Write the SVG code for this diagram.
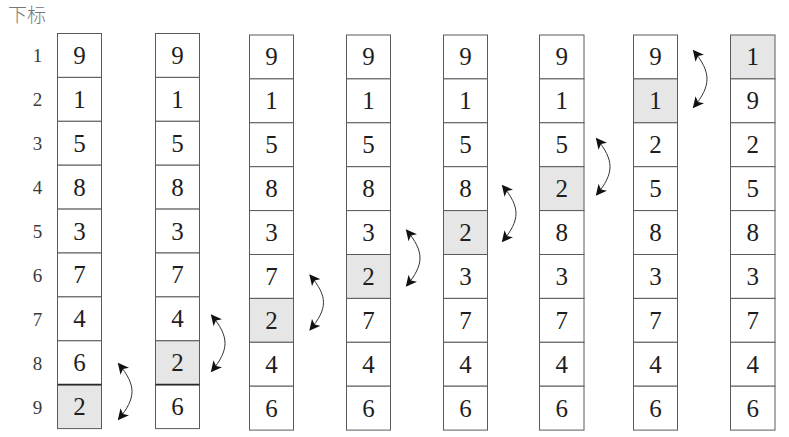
<svg xmlns="http://www.w3.org/2000/svg" width="789" height="437" viewBox="0 0 789 437">
<defs>
<style>
.cell{fill:#ffffff;stroke:#5a5a5a;stroke-width:1}
.hl{fill:#e6e6e6;stroke:#5a5a5a;stroke-width:1}
.num{font-family:"Liberation Serif","Times New Roman",serif;font-size:25px;fill:#1e1e1e;text-anchor:middle}
.idx{font-family:"Liberation Serif","Times New Roman",serif;font-size:19px;fill:#3a3a3a;text-anchor:middle}
.title{font-family:"Noto Sans CJK SC","Noto Sans",sans-serif;font-size:19px;font-weight:300;fill:#777777}
.sep{stroke:#2a2a2a;stroke-width:1.8}
.arc{fill:none;stroke:#333333;stroke-width:1;marker-start:url(#ah);marker-end:url(#ah)}
</style>
<marker id="ah" viewBox="0 0 10 10" refX="9" refY="5" markerWidth="11" markerHeight="11" markerUnits="userSpaceOnUse" orient="auto-start-reverse">
<path d="M0,0 L10,5 L0,10 L2.5,5 z" fill="#111111"/>
</marker>
</defs>
<rect width="789" height="437" fill="#ffffff"/>
<text class="title" x="8" y="22">下标</text>
<g id="index">
<text class="idx" x="37.5" y="62">1</text>
<text class="idx" x="37.5" y="106">2</text>
<text class="idx" x="37.5" y="150">3</text>
<text class="idx" x="37.5" y="194">4</text>
<text class="idx" x="37.5" y="238">5</text>
<text class="idx" x="37.5" y="282">6</text>
<text class="idx" x="37.5" y="326">7</text>
<text class="idx" x="37.5" y="370">8</text>
<text class="idx" x="37.5" y="414">9</text>
</g>
<g id="col1">
<rect class="cell" x="57.5" y="33.5" width="44" height="43.9"/>
<rect class="cell" x="57.5" y="77.4" width="44" height="43.9"/>
<rect class="cell" x="57.5" y="121.3" width="44" height="43.9"/>
<rect class="cell" x="57.5" y="165.2" width="44" height="43.9"/>
<rect class="cell" x="57.5" y="209.1" width="44" height="43.9"/>
<rect class="cell" x="57.5" y="253" width="44" height="43.9"/>
<rect class="cell" x="57.5" y="296.9" width="44" height="43.9"/>
<rect class="cell" x="57.5" y="340.8" width="44" height="43.9"/>
<rect class="hl" x="57.5" y="384.7" width="44" height="43.9"/>
<line class="sep" x1="57.5" y1="384.7" x2="101.5" y2="384.7"/>
<text class="num" x="79.5" y="63.9">9</text>
<text class="num" x="79.5" y="107.8">1</text>
<text class="num" x="79.5" y="151.7">5</text>
<text class="num" x="79.5" y="195.6">8</text>
<text class="num" x="79.5" y="239.5">3</text>
<text class="num" x="79.5" y="283.4">7</text>
<text class="num" x="79.5" y="327.3">4</text>
<text class="num" x="79.5" y="371.2">6</text>
<text class="num" x="79.5" y="415.1">2</text>
</g>
<g id="col2">
<rect class="cell" x="155.5" y="33.5" width="44" height="43.9"/>
<rect class="cell" x="155.5" y="77.4" width="44" height="43.9"/>
<rect class="cell" x="155.5" y="121.3" width="44" height="43.9"/>
<rect class="cell" x="155.5" y="165.2" width="44" height="43.9"/>
<rect class="cell" x="155.5" y="209.1" width="44" height="43.9"/>
<rect class="cell" x="155.5" y="253" width="44" height="43.9"/>
<rect class="cell" x="155.5" y="296.9" width="44" height="43.9"/>
<rect class="hl" x="155.5" y="340.8" width="44" height="43.9"/>
<rect class="cell" x="155.5" y="384.7" width="44" height="43.9"/>
<line class="sep" x1="155.5" y1="384.7" x2="199.5" y2="384.7"/>
<text class="num" x="177.5" y="63.9">9</text>
<text class="num" x="177.5" y="107.8">1</text>
<text class="num" x="177.5" y="151.7">5</text>
<text class="num" x="177.5" y="195.6">8</text>
<text class="num" x="177.5" y="239.5">3</text>
<text class="num" x="177.5" y="283.4">7</text>
<text class="num" x="177.5" y="327.3">4</text>
<text class="num" x="177.5" y="371.2">2</text>
<text class="num" x="177.5" y="415.1">6</text>
</g>
<g id="col3">
<rect class="cell" x="249.5" y="35" width="44" height="43.9"/>
<rect class="cell" x="249.5" y="78.9" width="44" height="43.9"/>
<rect class="cell" x="249.5" y="122.8" width="44" height="43.9"/>
<rect class="cell" x="249.5" y="166.7" width="44" height="43.9"/>
<rect class="cell" x="249.5" y="210.6" width="44" height="43.9"/>
<rect class="cell" x="249.5" y="254.5" width="44" height="43.9"/>
<rect class="hl" x="249.5" y="298.4" width="44" height="43.9"/>
<rect class="cell" x="249.5" y="342.3" width="44" height="43.9"/>
<rect class="cell" x="249.5" y="386.2" width="44" height="43.9"/>
<text class="num" x="271.5" y="65.4">9</text>
<text class="num" x="271.5" y="109.3">1</text>
<text class="num" x="271.5" y="153.2">5</text>
<text class="num" x="271.5" y="197.1">8</text>
<text class="num" x="271.5" y="241">3</text>
<text class="num" x="271.5" y="284.9">7</text>
<text class="num" x="271.5" y="328.8">2</text>
<text class="num" x="271.5" y="372.7">4</text>
<text class="num" x="271.5" y="416.6">6</text>
</g>
<g id="col4">
<rect class="cell" x="346.5" y="35" width="44" height="43.9"/>
<rect class="cell" x="346.5" y="78.9" width="44" height="43.9"/>
<rect class="cell" x="346.5" y="122.8" width="44" height="43.9"/>
<rect class="cell" x="346.5" y="166.7" width="44" height="43.9"/>
<rect class="cell" x="346.5" y="210.6" width="44" height="43.9"/>
<rect class="hl" x="346.5" y="254.5" width="44" height="43.9"/>
<rect class="cell" x="346.5" y="298.4" width="44" height="43.9"/>
<rect class="cell" x="346.5" y="342.3" width="44" height="43.9"/>
<rect class="cell" x="346.5" y="386.2" width="44" height="43.9"/>
<text class="num" x="368.5" y="65.4">9</text>
<text class="num" x="368.5" y="109.3">1</text>
<text class="num" x="368.5" y="153.2">5</text>
<text class="num" x="368.5" y="197.1">8</text>
<text class="num" x="368.5" y="241">3</text>
<text class="num" x="368.5" y="284.9">2</text>
<text class="num" x="368.5" y="328.8">7</text>
<text class="num" x="368.5" y="372.7">4</text>
<text class="num" x="368.5" y="416.6">6</text>
</g>
<g id="col5">
<rect class="cell" x="443.5" y="35" width="44" height="43.9"/>
<rect class="cell" x="443.5" y="78.9" width="44" height="43.9"/>
<rect class="cell" x="443.5" y="122.8" width="44" height="43.9"/>
<rect class="cell" x="443.5" y="166.7" width="44" height="43.9"/>
<rect class="hl" x="443.5" y="210.6" width="44" height="43.9"/>
<rect class="cell" x="443.5" y="254.5" width="44" height="43.9"/>
<rect class="cell" x="443.5" y="298.4" width="44" height="43.9"/>
<rect class="cell" x="443.5" y="342.3" width="44" height="43.9"/>
<rect class="cell" x="443.5" y="386.2" width="44" height="43.9"/>
<text class="num" x="465.5" y="65.4">9</text>
<text class="num" x="465.5" y="109.3">1</text>
<text class="num" x="465.5" y="153.2">5</text>
<text class="num" x="465.5" y="197.1">8</text>
<text class="num" x="465.5" y="241">2</text>
<text class="num" x="465.5" y="284.9">3</text>
<text class="num" x="465.5" y="328.8">7</text>
<text class="num" x="465.5" y="372.7">4</text>
<text class="num" x="465.5" y="416.6">6</text>
</g>
<g id="col6">
<rect class="cell" x="539.5" y="35" width="44.5" height="43.9"/>
<rect class="cell" x="539.5" y="78.9" width="44.5" height="43.9"/>
<rect class="cell" x="539.5" y="122.8" width="44.5" height="43.9"/>
<rect class="hl" x="539.5" y="166.7" width="44.5" height="43.9"/>
<rect class="cell" x="539.5" y="210.6" width="44.5" height="43.9"/>
<rect class="cell" x="539.5" y="254.5" width="44.5" height="43.9"/>
<rect class="cell" x="539.5" y="298.4" width="44.5" height="43.9"/>
<rect class="cell" x="539.5" y="342.3" width="44.5" height="43.9"/>
<rect class="cell" x="539.5" y="386.2" width="44.5" height="43.9"/>
<text class="num" x="561.75" y="65.4">9</text>
<text class="num" x="561.75" y="109.3">1</text>
<text class="num" x="561.75" y="153.2">5</text>
<text class="num" x="561.75" y="197.1">2</text>
<text class="num" x="561.75" y="241">8</text>
<text class="num" x="561.75" y="284.9">3</text>
<text class="num" x="561.75" y="328.8">7</text>
<text class="num" x="561.75" y="372.7">4</text>
<text class="num" x="561.75" y="416.6">6</text>
</g>
<g id="col7">
<rect class="cell" x="633.5" y="35" width="44" height="43.9"/>
<rect class="hl" x="633.5" y="78.9" width="44" height="43.9"/>
<rect class="cell" x="633.5" y="122.8" width="44" height="43.9"/>
<rect class="cell" x="633.5" y="166.7" width="44" height="43.9"/>
<rect class="cell" x="633.5" y="210.6" width="44" height="43.9"/>
<rect class="cell" x="633.5" y="254.5" width="44" height="43.9"/>
<rect class="cell" x="633.5" y="298.4" width="44" height="43.9"/>
<rect class="cell" x="633.5" y="342.3" width="44" height="43.9"/>
<rect class="cell" x="633.5" y="386.2" width="44" height="43.9"/>
<text class="num" x="655.5" y="65.4">9</text>
<text class="num" x="655.5" y="109.3">1</text>
<text class="num" x="655.5" y="153.2">2</text>
<text class="num" x="655.5" y="197.1">5</text>
<text class="num" x="655.5" y="241">8</text>
<text class="num" x="655.5" y="284.9">3</text>
<text class="num" x="655.5" y="328.8">7</text>
<text class="num" x="655.5" y="372.7">4</text>
<text class="num" x="655.5" y="416.6">6</text>
</g>
<g id="col8">
<rect class="hl" x="730.5" y="35" width="44.5" height="43.9"/>
<rect class="cell" x="730.5" y="78.9" width="44.5" height="43.9"/>
<rect class="cell" x="730.5" y="122.8" width="44.5" height="43.9"/>
<rect class="cell" x="730.5" y="166.7" width="44.5" height="43.9"/>
<rect class="cell" x="730.5" y="210.6" width="44.5" height="43.9"/>
<rect class="cell" x="730.5" y="254.5" width="44.5" height="43.9"/>
<rect class="cell" x="730.5" y="298.4" width="44.5" height="43.9"/>
<rect class="cell" x="730.5" y="342.3" width="44.5" height="43.9"/>
<rect class="cell" x="730.5" y="386.2" width="44.5" height="43.9"/>
<text class="num" x="752.75" y="65.4">1</text>
<text class="num" x="752.75" y="109.3">9</text>
<text class="num" x="752.75" y="153.2">2</text>
<text class="num" x="752.75" y="197.1">5</text>
<text class="num" x="752.75" y="241">8</text>
<text class="num" x="752.75" y="284.9">3</text>
<text class="num" x="752.75" y="328.8">7</text>
<text class="num" x="752.75" y="372.7">4</text>
<text class="num" x="752.75" y="416.6">6</text>
</g>
<g id="connectors">
<path class="arc" d="M118.5,363.5 C136.5,385.5 136.5,397.5 118.5,419.5"/>
<path class="arc" d="M211.5,315 C229.5,337 229.5,349.5 211.5,371.5"/>
<path class="arc" d="M310,275 C328,297 328,308 310,330"/>
<path class="arc" d="M406.5,230 C424.5,252 424.5,264 406.5,286"/>
<path class="arc" d="M502.5,185.5 C520.5,207.5 520.5,219.5 502.5,241.5"/>
<path class="arc" d="M596.5,138.5 C614.5,160.5 614.5,173 596.5,195"/>
<path class="arc" d="M693.5,50.5 C711.5,72.5 711.5,85.5 693.5,107.5"/>
</g>
</svg>
